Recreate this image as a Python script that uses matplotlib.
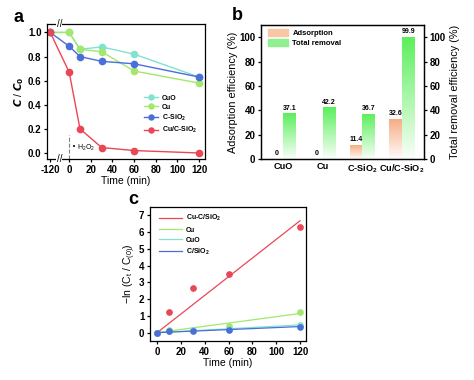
import matplotlib
matplotlib.use('Agg')
import matplotlib.pyplot as plt
import matplotlib.colors as mcolors
from matplotlib.patches import Patch
import numpy as np

plt.rcParams['font.family'] = ['Liberation Sans', 'DejaVu Sans']
plt.rcParams['font.weight'] = 'bold'
plt.rcParams['axes.linewidth'] = 0.9
plt.rcParams['mathtext.default'] = 'regular'

# panel a: C/C0 vs time (-120 is the dark adsorption start)
time_a = [-120, 0, 10, 30, 60, 120]
cuo_a = [1.0, 1.0, 0.86, 0.88, 0.82, 0.63]
cu_a = [1.0, 1.0, 0.86, 0.84, 0.68, 0.58]
csio2_a = [1.0, 0.885, 0.80, 0.76, 0.74, 0.63]
cucsio2_a = [1.0, 0.67, 0.20, 0.045, 0.02, 0.0]

# panel b: efficiencies
cats_b = ['CuO', 'Cu', 'C-SiO$_2$', 'Cu/C-SiO$_2$']
adsorption = [0, 0, 11.4, 32.6]
total_removal = [37.1, 42.2, 36.7, 99.9]

# panel c: -ln(Ct/C0) kinetics
time_c = [0, 10, 30, 60, 120]
cucsio2_c = [0, 1.22, 2.65, 3.5, 6.3]
cu_c = [0, 0.15, 0.18, 0.40, 1.25]
cuo_c = [0, 0.12, 0.15, 0.22, 0.45]
csio2_c = [0, 0.10, 0.12, 0.18, 0.35]

c_cuo = '#7fe3cf'
c_cu = '#a2e86c'
c_csio2 = '#4a6fd8'
c_red = '#ea4656'
c_orange = '#f7ad84'
c_green = '#5cef5c'

W, H = 474, 380
fig = plt.figure(figsize=(W / 100, H / 100), dpi=100)


def rect(l, r, t, b):
    return [l / W, (H - b) / H, (r - l) / W, (b - t) / H]


# ---------------- a ----------------
ax = fig.add_axes(rect(47, 205, 24, 159))
shift = -17.5  # where -120 is drawn
xa = [shift if t == -120 else t for t in time_a]
for y, c, lab in [(cuo_a, c_cuo, 'CuO'), (cu_a, c_cu, 'Cu'),
                  (csio2_a, c_csio2, 'C-SiO$_2$'), (cucsio2_a, c_red, 'Cu/C-SiO$_2$')]:
    ax.plot(xa, y, '-o', color=c, lw=1, ms=4.5, mec=c, label=lab)
ax.set_xlim(-20.5, 125.5)
ax.set_ylim(-0.05, 1.07)
ax.set_xticks([shift, 0, 20, 40, 60, 80, 100, 120])
ax.set_xticklabels(['-120', '0', '20', '40', '60', '80', '100', '120'])
ax.set_yticks([0, 0.2, 0.4, 0.6, 0.8, 1.0])
ax.set_yticklabels(['0.0', '0.2', '0.4', '0.6', '0.8', '1.0'])
ax.tick_params(labelsize=7, width=0.9, length=2.5, pad=1.5)
ax.set_xlabel('Time (min)', fontsize=7.5, labelpad=1)
ax.set_ylabel('$\\it{C}$ / $\\it{C}_0$', fontsize=7.5, labelpad=1)
ax.vlines(0, -0.05, 0.15, colors='gray', linestyles='--', lw=0.8)
ax.text(2, 0.045, '• H$_2$O$_2$', fontsize=5, va='center', ha='left', fontweight='normal')
for yy in (0, 1):
    ax.text(-9, yy, '//', transform=ax.get_xaxis_transform(), fontsize=7,
            ha='center', va='center', fontweight='normal', clip_on=False,
            bbox=dict(facecolor='white', edgecolor='none', pad=0.2))
ax.legend(loc='lower right', bbox_to_anchor=(0.99, 0.13), fontsize=5, frameon=False,
          handlelength=2, handletextpad=0.6, labelspacing=0.3, markerscale=0.8)
fig.text(18 / W, 1 - 18 / H, 'a', fontsize=13, fontweight='bold', va='center', ha='center')

# ---------------- b ----------------
bx = fig.add_axes(rect(261, 424, 25, 159))
bx2 = bx.twinx()
pos = np.arange(len(cats_b))
bw = 0.32


def grad_bars(axis, xs, hs, color):
    bars = axis.bar(xs, hs, width=bw, color='none', edgecolor='none')
    rgb = np.array(mcolors.to_rgb(color))
    g = np.linspace(0, 1, 100)[:, None]
    img = (1 - g) * rgb + g * np.array([1, 1, 1]) * 0.97 + g * 0.03 * rgb
    img = img[:, None, :]
    for b in bars:
        x0, h = b.get_x(), b.get_height()
        if h <= 0:
            continue
        axis.imshow(img, extent=(x0, x0 + bw, 0, h), aspect='auto', origin='upper', zorder=2)
    return bars


grad_bars(bx, pos - bw / 2, adsorption, c_orange)
grad_bars(bx, pos + bw / 2, total_removal, c_green)
for x, v in zip(pos - bw / 2, adsorption):
    bx.text(x, v + 1.5, f'{v:g}', ha='center', va='bottom', fontsize=5)
for x, v in zip(pos + bw / 2, total_removal):
    bx.text(x, v + 1.5, f'{v:g}', ha='center', va='bottom', fontsize=5)
bx.set_xlim(-0.55, 3.55)
bx.set_ylim(0, 110)
bx2.set_ylim(0, 110)
bx.set_xticks(pos)
bx.set_xticklabels(cats_b)
bx.set_yticks(range(0, 101, 20))
bx2.set_yticks(range(0, 101, 20))
for a_ in (bx, bx2):
    a_.tick_params(labelsize=7, width=0.9, length=2.5, pad=1.5)
bx.tick_params(axis='x', length=0, labelsize=6.6, pad=2.5)
bx.set_ylabel('Adsorption efficiency (%)', fontsize=7.8, labelpad=1)
bx2.set_ylabel('Total removal efficiency (%)', fontsize=7.8, labelpad=3)
bx.legend(handles=[Patch(color='#f9c6a6', label='Adsorption'),
                   Patch(color='#8ff08f', label='Total removal')],
          loc='upper left', bbox_to_anchor=(0.0, 1.02), fontsize=5.5, frameon=False,
          handlelength=2.6, handleheight=0.9, handletextpad=0.6, labelspacing=0.3)
fig.text(237 / W, 1 - 16 / H, 'b', fontsize=13, fontweight='bold', va='center', ha='center')

# ---------------- c ----------------
cx = fig.add_axes(rect(150, 306, 207, 341))
tc = np.array(time_c, dtype=float)
tline = np.array([0, 120.0])
for y, c, lab in [(cucsio2_c, c_red, 'Cu-C/SiO$_2$'), (cu_c, c_cu, 'Cu'),
                  (cuo_c, c_cuo, 'CuO'), (csio2_c, c_csio2, 'C/SiO$_2$')]:
    y = np.array(y)
    k = (tc * y).sum() / (tc * tc).sum()  # linear fit through origin
    cx.plot(tc, y, 'o', color=c, ms=3.8)
    cx.plot(tline, k * tline, '-', color=c, lw=0.9, label=lab)
cx.set_xlim(-6, 125)
cx.set_ylim(-0.5, 7.5)
cx.set_xticks(range(0, 121, 20))
cx.set_yticks(range(0, 8))
cx.tick_params(labelsize=7, width=0.9, length=2.5, pad=1.5)
cx.set_xlabel('Time (min)', fontsize=7.5, labelpad=1)
cx.set_ylabel('$-$ln ($C_t$ / $C_{(0)}$)', fontsize=7.5, labelpad=1)
cx.legend(loc='upper left', fontsize=5, frameon=False, handlelength=3.2,
          handletextpad=0.6, labelspacing=0.45, bbox_to_anchor=(0.02, 1.0))
fig.text(133 / W, 1 - 200 / H, 'c', fontsize=13, fontweight='bold', va='center', ha='center')

fig.savefig('out.png', dpi=100)
